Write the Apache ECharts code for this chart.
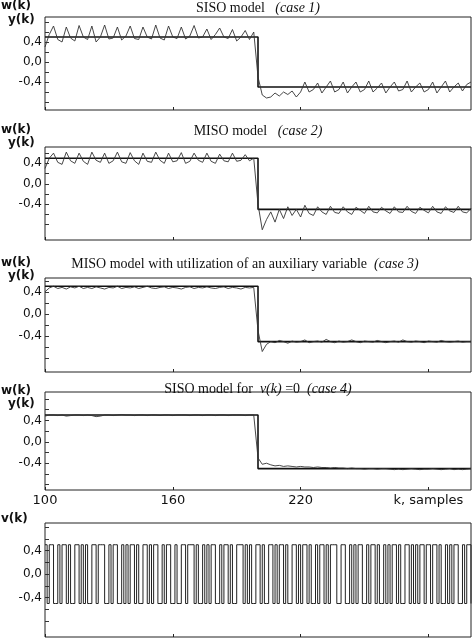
<!DOCTYPE html>
<html><head><meta charset="utf-8">
<script src="https://cdn.jsdelivr.net/npm/echarts@6/dist/echarts.min.js"></script>
<style>html,body{margin:0;background:#fff}#c{width:474px;height:642px}</style>
</head><body><div id="c"></div>
<script>
// setpoint w(k): +0.5 until k=200, then -0.5
const wK = [100, 200, 200, 300];
const wV = [0.5, 0.5, -0.5, -0.5];

// outputs y(k), sampled every 2 samples from k=100 to k=300
const y1 = [
  0.30,0.55,0.72,0.45,0.40,0.70,0.48,0.42,0.73,0.50,
  0.45,0.72,0.40,0.50,0.74,0.46,0.48,0.70,0.44,0.52,
  0.72,0.47,0.45,0.70,0.50,0.46,0.74,0.48,0.44,0.72,
  0.50,0.47,0.70,0.46,0.52,0.73,0.48,0.50,0.66,0.45,
  0.55,0.68,0.50,0.47,0.65,0.42,0.50,0.63,0.45,0.60,
  -0.30,-0.66,-0.72,-0.70,-0.62,-0.68,-0.60,-0.65,-0.58,-0.70,
  -0.60,-0.40,-0.60,-0.55,-0.42,-0.62,-0.50,-0.38,-0.60,-0.55,
  -0.40,-0.62,-0.50,-0.40,-0.60,-0.55,-0.38,-0.60,-0.52,-0.42,
  -0.62,-0.50,-0.40,-0.58,-0.55,-0.38,-0.60,-0.50,-0.42,-0.60,
  -0.55,-0.40,-0.62,-0.50,-0.38,-0.60,-0.50,-0.42,-0.58,-0.45,
  -0.40
];
const y2 = [
  0.30,0.50,0.60,0.42,0.38,0.62,0.45,0.40,0.60,0.44,
  0.38,0.62,0.46,0.42,0.60,0.40,0.45,0.62,0.43,0.40,
  0.61,0.45,0.38,0.60,0.44,0.42,0.62,0.46,0.40,0.60,
  0.43,0.45,0.61,0.40,0.44,0.60,0.46,0.42,0.60,0.44,
  0.40,0.58,0.45,0.43,0.60,0.44,0.46,0.57,0.45,0.50,
  -0.40,-0.90,-0.70,-0.55,-0.75,-0.50,-0.68,-0.45,-0.62,-0.50,
  -0.65,-0.42,-0.58,-0.62,-0.45,-0.55,-0.60,-0.44,-0.56,-0.58,
  -0.45,-0.55,-0.60,-0.46,-0.52,-0.58,-0.44,-0.55,-0.57,-0.46,
  -0.53,-0.58,-0.45,-0.55,-0.56,-0.44,-0.54,-0.58,-0.46,-0.52,
  -0.57,-0.44,-0.55,-0.58,-0.45,-0.53,-0.56,-0.44,-0.55,-0.57,
  -0.48
];
const y3 = [
  0.40,0.47,0.50,0.46,0.48,0.45,0.49,0.47,0.50,0.46,
  0.48,0.46,0.49,0.47,0.45,0.48,0.47,0.50,0.46,0.48,
  0.47,0.49,0.46,0.48,0.50,0.47,0.46,0.48,0.49,0.46,
  0.48,0.47,0.45,0.48,0.49,0.46,0.48,0.47,0.49,0.47,
  0.46,0.48,0.49,0.46,0.48,0.47,0.45,0.48,0.47,0.48,
  -0.30,-0.68,-0.55,-0.50,-0.52,-0.48,-0.50,-0.53,-0.49,-0.51,
  -0.50,-0.47,-0.52,-0.50,-0.49,-0.51,-0.46,-0.50,-0.52,-0.49,
  -0.51,-0.50,-0.47,-0.50,-0.52,-0.49,-0.50,-0.51,-0.48,-0.50,
  -0.52,-0.50,-0.49,-0.51,-0.47,-0.50,-0.51,-0.49,-0.50,-0.52,
  -0.49,-0.50,-0.51,-0.48,-0.50,-0.51,-0.50,-0.49,-0.51,-0.50,
  -0.50
];
const y4 = [
  0.48,0.50,0.50,0.49,0.50,0.48,0.49,0.50,0.50,0.49,
  0.50,0.49,0.47,0.48,0.50,0.50,0.49,0.50,0.51,0.50,
  0.50,0.49,0.50,0.50,0.49,0.50,0.50,0.49,0.50,0.50,
  0.49,0.50,0.50,0.50,0.49,0.50,0.50,0.49,0.50,0.50,
  0.49,0.50,0.50,0.49,0.50,0.50,0.50,0.49,0.50,0.50,
  -0.30,-0.42,-0.40,-0.43,-0.45,-0.44,-0.46,-0.45,-0.46,-0.47,
  -0.46,-0.47,-0.47,-0.48,-0.47,-0.48,-0.48,-0.49,-0.48,-0.49,
  -0.49,-0.50,-0.49,-0.50,-0.50,-0.51,-0.50,-0.50,-0.51,-0.50,
  -0.50,-0.51,-0.52,-0.51,-0.52,-0.51,-0.50,-0.51,-0.52,-0.51,
  -0.51,-0.50,-0.51,-0.52,-0.51,-0.50,-0.52,-0.51,-0.52,-0.51,
  -0.50
];

// auxiliary variable v(k), one sign per sample k=100..300 (+ = 0.5, - = -0.5)
const vSigns =
  '+-++--+-++-+--++-+-+' + '--++-+++--+-++--+-+-' + '++-+--++-+-++--+-++-' +
  '-+--++-+++-+--+-+-++' + '--+-++-+--+++-+-+--+' + '+-+--++-+-++-+--++-+' +
  '-++-+--+-++-+-+++--+' + '+--+-+-++--+-++-+--+' + '-+-++-+--++-+-+-++-+' +
  '+-++-+--+-+-++--+-++' + '-';

const xTicks = [100, 160, 220, 280];
const yLabelTicks = [-0.4, 0, 0.4];
const yMinorTicks = [-0.8, -0.6, -0.4, -0.2, 0, 0.2, 0.4, 0.6, 0.8];

const titles = [
  ['SISO model   ', '(case 1)'],
  ['MISO model   ', '(case 2)'],
  ['MISO model with utilization of an auxiliary variable  ', '(case 3)'],
  ['SISO model for  ', 'v(k)', ' =0  ', '(case 4)']
];

// panel layout: [top, height, ymin, ymax]
const panels = [
  [17, 93, -0.96, 0.9],
  [147, 93, -1.1, 0.72],
  [278, 94, -1.05, 0.65],
  [392, 98, -0.9, 0.93],
  [523, 114, -1.07, 0.87]
];

const toPts = arr => arr.map((v, i) => [100 + 2 * i, v]);
const vPts = vSigns.split('').map((s, i) => [100 + i, s === '+' ? 0.5 : -0.5]);
const comma = v => v.toFixed(1).replace('.', ',');

const grid = [], xAxis = [], yAxis = [], series = [];
panels.forEach((p, i) => {
  grid.push({ left: 45, right: 3, top: p[0], height: p[1], show: true,
    borderColor: '#222', borderWidth: 1 });
  xAxis.push({ gridIndex: i, type: 'value', min: 100, max: 300,
    axisLine: { show: false, onZero: false }, splitLine: { show: false },
    axisTick: { show: true, inside: true, length: 3, customValues: xTicks, lineStyle: { color: '#222' } },
    axisLabel: { show: i === 3, customValues: xTicks, margin: 4,
      fontFamily: 'DejaVu Sans', fontSize: 13, color: '#111',
      formatter: v => v === 280 ? 'k, samples' : String(v) } });
  yAxis.push({ gridIndex: i, type: 'value', min: p[2], max: p[3],
    axisLine: { show: false, onZero: false }, splitLine: { show: false },
    axisTick: { show: true, inside: true, length: 4, customValues: yMinorTicks, lineStyle: { color: '#333' } },
    axisLabel: { customValues: yLabelTicks, margin: 3, formatter: comma,
      fontFamily: 'DejaVu Sans', fontSize: 12, color: '#111' } });
});

[y1, y2, y3, y4].forEach((arr, i) => {
  series.push({ type: 'line', xAxisIndex: i, yAxisIndex: i, showSymbol: false,
    data: wK.map((k, j) => [k, wV[j]]), lineStyle: { color: '#111', width: 1.6 }, silent: true });
  series.push({ type: 'line', xAxisIndex: i, yAxisIndex: i, showSymbol: false,
    data: toPts(arr), lineStyle: { color: '#333', width: 0.9 }, silent: true });
});
series.push({ type: 'line', xAxisIndex: 4, yAxisIndex: 4, showSymbol: false, step: 'end',
  data: vPts, lineStyle: { color: '#222', width: 1 }, silent: true });

const graphic = [];
const titleY = [8, 131, 264, 389];
titles.forEach((parts, i) => {
  const rich = { n: { fontFamily: 'Liberation Serif', fontSize: 14, fill: '#111' },
    it: { fontFamily: 'Liberation Serif', fontStyle: 'italic', fontSize: 14, fill: '#111' } };
  const txt = parts.map((s, j) => (j % 2 === 0 ? '{n|' : '{it|') + s + '}').join('');
  graphic.push({ type: 'text', x: i === 2 ? 245 : 258, y: titleY[i],
    style: { text: txt, rich: rich, align: 'center', verticalAlign: 'middle',
      fontSize: i === 2 ? 13 : 14 } });
});
const sideLab = (t, x, y) => graphic.push({ type: 'text', x: x, y: y,
  style: { text: t, fontFamily: 'DejaVu Sans', fontWeight: 'bold', fontSize: 12, fill: '#111',
    verticalAlign: 'middle' } });
[[6, 20], [130, 143], [263, 276], [391, 404]].forEach(r => {
  sideLab('w(k)', 1, r[0]);
  sideLab('y(k)', 8, r[1]);
});
sideLab('v(k)', 1, 519);

const chart = echarts.init(document.getElementById('c'), null, { renderer: 'canvas' });
chart.setOption({ animation: false, grid, xAxis, yAxis, series, graphic });
</script></body></html>
